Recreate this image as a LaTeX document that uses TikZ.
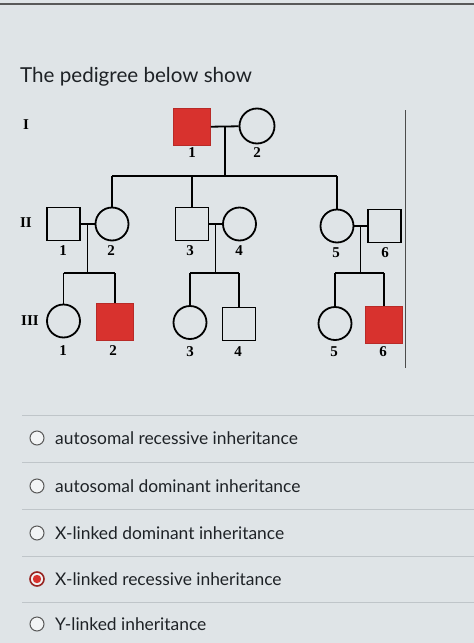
\documentclass[tikz,border=0pt]{standalone}
\usepackage{fontspec}
\setmainfont{Lato}
\newfontfamily\numfont{Liberation Serif}
\definecolor{bg}{HTML}{DFE4E7}
\definecolor{aff}{HTML}{D8322E}
\definecolor{sep}{HTML}{BFC5C9}
\definecolor{txt}{HTML}{1E2226}
\begin{document}
\begin{tikzpicture}[x=1pt,y=-1pt,
  ln/.style={line width=1.8pt,black},
  male/.style={rectangle,draw=black,line width=1.8pt,minimum size=33pt,inner sep=0pt},
  female/.style={circle,draw=black,line width=1.8pt,minimum size=33pt,inner sep=0pt},
  affm/.style={rectangle,fill=aff,draw=aff!85!black,line width=0.8pt,minimum size=37pt,inner sep=0pt},
  num/.style={font=\numfont\bfseries\fontsize{15}{15}\selectfont,inner sep=0pt},
  gen/.style={font=\numfont\bfseries\fontsize{15}{15}\selectfont,inner sep=0pt},
  opt/.style={font=\fontsize{17.4}{20}\selectfont,text=txt,anchor=west,inner sep=0pt},
  radio/.style={circle,draw=gray!70!black,line width=1pt,minimum size=14pt,inner sep=0pt,fill=white!60!bg},
  sepl/.style={draw=sep,line width=0.9pt}]
\useasboundingbox (0,0) rectangle (474,643);
\fill[bg] (0,0) rectangle (474,643);
\draw[line width=1.2pt,gray!70!black] (0,4) -- (474,4);

\node[anchor=west,font=\fontsize{20.6}{25}\selectfont,text=txt,inner sep=0pt] (title) at (20,77) {The pedigree below show};

% generation labels
\node[gen] (gI) at (26,125) {I};
\node[gen] (gII) at (26,223) {II};
\node[gen] (gIII) at (30,321) {III};

% right vertical rule
\coordinate (vr1) at (405,110);
\coordinate (vr2) at (405,368);
\draw[line width=0.8pt,gray!60!black] (vr1) -- (vr2);

% Generation I
\node[affm] (I1) at (192,127) {};
\node[female,minimum size=35pt] (I2) at (257,126) {};
\node[num] at (192,153) {1};
\node[num] at (257,153) {2};
\draw[ln] (I1) -- (I2);
\coordinate (mI) at (225,126);
\coordinate (sI) at (225,176);
\coordinate (sIa) at (112,176);
\coordinate (sIb) at (192,176);
\coordinate (sIc) at (337,176);
\draw[ln] (mI) -- (sI);
\draw[ln] (sIa) -- (sIc);

% Generation II
\node[male] (II1) at (63.5,224) {};
\node[female] (II2) at (112,224) {};
\node[male] (II3) at (192,224) {};
\node[female] (II4) at (239.5,224) {};
\node[female] (II5) at (337,226) {};
\node[male] (II6) at (384.5,226) {};
\foreach \n/\x/\y in {1/63/251,2/111/251,3/190/251,4/239/251,5/336/253,6/385/253}
  \node[num] at (\x,\y) {\n};
\draw[ln] (sIa) -- (II2.north);
\draw[ln] (sIb) -- (II3.north);
\draw[ln] (sIc) -- (II5.north);
\draw[ln] (II1) -- (II2);
\draw[ln] (II3) -- (II4);
\draw[ln] (II5) -- (II6);
\coordinate (mA) at (87.5,224);
\coordinate (mB) at (215.5,224);
\coordinate (mC) at (360.5,226);
\coordinate (sA) at (87.5,273);
\coordinate (sB) at (215.5,273);
\coordinate (sC) at (360.5,273);
\draw[ln] (mA) -- (sA);
\draw[ln] (mB) -- (sB);
\draw[ln] (mC) -- (sC);

% Generation III
\node[female] (III1) at (63.5,321) {};
\node[affm] (III2) at (115,321.5) {};
\node[female] (III3) at (190,322.5) {};
\node[male] (III4) at (239,324) {};
\node[female] (III5) at (335,323.5) {};
\node[affm] (III6) at (384,324.5) {};
\foreach \n/\x/\y in {1/63/351,2/113/351,3/190/352,4/238/352,5/334/352,6/383/352}
  \node[num] at (\x,\y) {\n};
\coordinate (tA1) at (63.5,273);
\coordinate (tA2) at (115,273);
\coordinate (tB1) at (190,273);
\coordinate (tB2) at (239,273);
\coordinate (tC1) at (335,273);
\coordinate (tC2) at (384,273);
\draw[ln] (tA1) -- (tA2);
\draw[ln] (tB1) -- (tB2);
\draw[ln] (tC1) -- (tC2);
\draw[ln] (tA1) -- (III1.north);
\draw[ln] (tA2) -- (III2.north);
\draw[ln] (tB1) -- (III3.north);
\draw[ln] (tB2) -- (III4.north);
\draw[ln] (tC1) -- (III5.north);
\draw[ln] (tC2) -- (III6.north);

% options
\foreach \y in {415,462,509,556,602}
  \draw[sepl] (22,\y) -- (474,\y);
\node[radio] (r1) at (37,438) {};
\node[opt] (o1) at (55,438) {autosomal recessive inheritance};
\node[radio] (r2) at (37,486) {};
\node[opt] (o2) at (55,486) {autosomal dominant inheritance};
\node[radio] (r3) at (37,533) {};
\node[opt] (o3) at (55,533) {X-linked dominant inheritance};
\node[radio,draw=aff!70!black,line width=1.6pt] (r4) at (37,579) {};
\fill[aff] (r4.center) circle (4.2pt);
\node[opt] (o4) at (55,579) {X-linked recessive inheritance};
\node[radio] (r5) at (37,624) {};
\node[opt] (o5) at (55,624) {Y-linked inheritance};
\end{tikzpicture}
\end{document}
